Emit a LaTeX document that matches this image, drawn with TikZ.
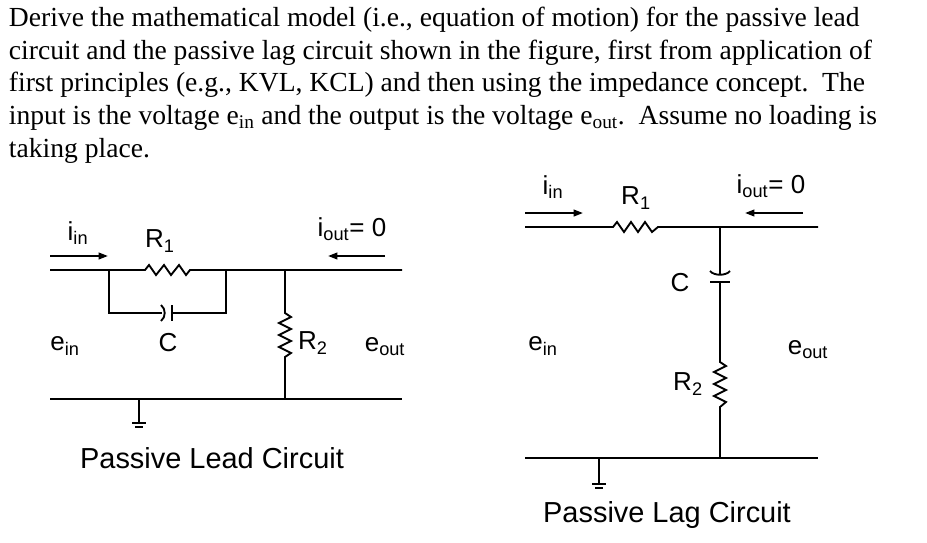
\documentclass[tikz,border=0pt]{standalone}
\usepackage{fontspec}
\setmainfont{Liberation Serif}
\setsansfont{Liberation Sans}
\usetikzlibrary{arrows.meta}
\begin{document}
\begin{tikzpicture}[x=0.75pt,y=-0.75pt,line width=1.4pt,
  lbl/.style={font=\sffamily\fontsize{19.5}{21}\selectfont,inner sep=0pt},
  captxt/.style={font=\sffamily\fontsize{21.7}{23}\selectfont,inner sep=0pt},
  arr/.style={-{Triangle[length=7pt,width=5pt]}}]
\useasboundingbox (0,0) rectangle (927,542);
\node[anchor=north west,align=left,inner sep=0pt,font=\fontsize{20.7}{24.6}\selectfont] (txt) at (8,6)
{Derive the mathematical model (i.e., equation of motion) for the passive lead\\
circuit and the passive lag circuit shown in the figure, first from application of\\
first principles (e.g., KVL, KCL) and then using the impedance concept.\ \ The\\
input is the voltage e\textsubscript{in} and the output is the voltage e\textsubscript{out}.\ \ Assume no loading is\\
taking place.};
% ---------- lead circuit
\draw (50,270) -- (145,270) -- (149,265) -- (156,275) -- (164,265) -- (171,275) -- (179,265) -- (186,275) -- (190,270) -- (402,270);
\draw (109,270) -- (109,313) -- (162,313);
\draw (161,305) .. controls (166,309) and (166,317) .. (161,321);
\draw (172,305) -- (172,321);
\draw (172,313) -- (226,313) -- (226,270);
\draw (285,270) -- (285,313) -- (291,317) -- (279,323) -- (291,329) -- (279,335) -- (291,341) -- (279,347) -- (291,353) -- (285,357) -- (285,399);
\draw (50,399) -- (402,399);
\draw (139,399) -- (139,423);
\draw (132,423) -- (146,423); \draw (135,427) -- (143,427);
\draw[arr] (50,256) -- (108,256);
\draw[arr] (385,256) -- (328,256);
\node[lbl] (li) at (78,233) {i\textsubscript{in}};
\node[lbl] (lr1) at (160,241) {R\textsubscript{1}};
\node[lbl] (lio) at (352,229) {i\textsubscript{out}= 0};
\node[lbl] (lei) at (65,346) {e\textsubscript{in}};
\node[lbl] (lc) at (168,343) {C};
\node[lbl] (lr2) at (313,343) {R\textsubscript{2}};
\node[lbl] (leo) at (385,347) {e\textsubscript{out}};
\node[captxt] (lcap) at (212,458) {Passive Lead Circuit};
% ---------- lag circuit
\draw (525,227) -- (613,227) -- (617,222) -- (624,232) -- (631,222) -- (638,232) -- (645,222) -- (652,232) -- (658,227) -- (818,227);
\draw (720,227) -- (720,275);
\draw (710,271) .. controls (714,276) and (726,276) .. (730,271);
\draw (710,282) -- (730,282);
\draw (720,282) -- (720,362) -- (726,366) -- (714,372) -- (726,378) -- (714,384) -- (726,390) -- (714,396) -- (726,402) -- (720,407) -- (720,458);
\draw (525,458) -- (818,458);
\draw (599,458) -- (599,484);
\draw (592,484) -- (606,484); \draw (595,488) -- (603,488);
\draw[arr] (525,213) -- (583,213);
\draw[arr] (803,213) -- (745,213);
\node[lbl] (ri) at (553,187) {i\textsubscript{in}};
\node[lbl] (rr1) at (636,198) {R\textsubscript{1}};
\node[lbl] (rio) at (771,186) {i\textsubscript{out}= 0};
\node[lbl] (rei) at (543,346) {e\textsubscript{in}};
\node[lbl] (rc) at (680,283) {C};
\node[lbl] (rr2) at (688,384) {R\textsubscript{2}};
\node[lbl] (reo) at (808,350) {e\textsubscript{out}};
\node[captxt] (rcap) at (667,515) {Passive Lag Circuit};
\end{tikzpicture}
\end{document}
